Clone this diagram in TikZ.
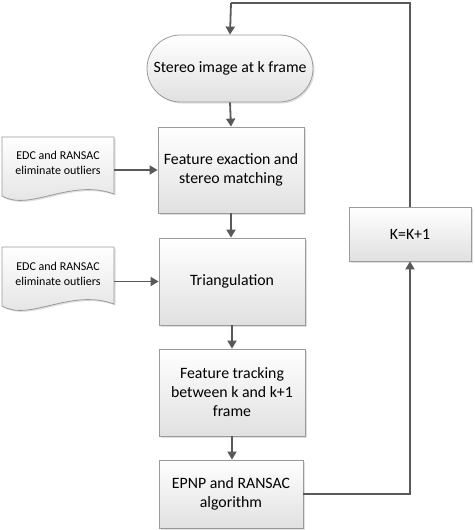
\documentclass[tikz,border=0pt]{standalone}
\usepackage{fontspec}
\setmainfont{Carlito}
\usetikzlibrary{arrows.meta,shadows}
\definecolor{linec}{HTML}{595959}
\definecolor{boxc}{HTML}{9A9A9A}
\tikzset{
  proc/.style={draw=boxc, line width=0.8pt, top color=white, bottom color=black!12,
    drop shadow={shadow xshift=1.5pt, shadow yshift=-1.5pt, opacity=0.25},
    align=center, font=\fontsize{15.8}{19}\selectfont, inner sep=2pt},
  doctext/.style={align=center, font=\fontsize{12}{15}\selectfont, inner sep=0pt},
  docshape/.style={draw=boxc, line width=0.8pt, top color=white, bottom color=black!12,
    drop shadow={shadow xshift=1.5pt, shadow yshift=-1.5pt, opacity=0.25}},
  arr/.style={draw=linec, line width=1.8pt, -{Triangle[length=8pt,width=9pt]}},
  ln/.style={draw=linec, line width=1.8pt}
}
\begin{document}
\begin{tikzpicture}[x=1pt,y=-1pt]
\useasboundingbox (0,0) rectangle (474,530);
% terminal
\node[proc, rounded corners=33.5pt, minimum width=166pt, minimum height=67pt] (s) at (230,68.5) {Stereo image at k frame};
\node[proc, minimum width=146pt, minimum height=86pt] (f1) at (231,170) {Feature exaction and\\stereo matching};
\node[proc, minimum width=146pt, minimum height=87pt] (tr) at (232,281.5) {Triangulation};
\node[proc, minimum width=146pt, minimum height=87pt] (ft) at (232,392.5) {Feature tracking\\between k and k+1\\frame};
\node[proc, minimum width=144pt, minimum height=68pt] (ep) at (231,494) {EPNP and RANSAC\\algorithm};
\node[proc, minimum width=122pt, minimum height=54pt] (kk) at (410,234) {K=K+1};
% documents
\path[docshape] (2,137) -- (114,137) -- (114,194) .. controls (70,178) and (30,212) .. (2,196) -- cycle;
\path[docshape] (2,247) -- (114,247) -- (114,304) .. controls (70,288) and (30,322) .. (2,306) -- cycle;
\node[doctext, minimum width=112pt] (d1) at (58,163) {EDC and RANSAC\\eliminate outliers};
\node[doctext, minimum width=112pt] (d2) at (58,274) {EDC and RANSAC\\eliminate outliers};
% connectors
\coordinate (tl) at (231,3);
\coordinate (tr2) at (410,3);
\coordinate (br) at (410,494);
\draw[ln] (kk.north) -- (tr2) -- (tl);
\draw[arr] (tl) -- (s.north);
\draw[arr] (s.south) -- (f1.north);
\draw[arr] (f1.south) -- (f1.south |- tr.north);
\draw[arr] (tr.south) -- (ft.north);
\draw[arr] (ft.south) -- (ft.south |- ep.north);
\draw[arr] (ep.east) -- (br) -- (kk.south);
\draw[arr] (d1.east |- f1.west) -- (f1.west);
\draw[arr] (d2.east |- tr.west) -- (tr.west);
\end{tikzpicture}
\end{document}
